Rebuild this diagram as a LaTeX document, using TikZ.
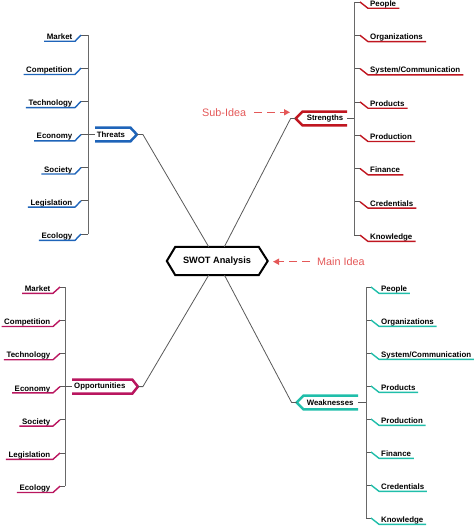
\documentclass[tikz,border=0pt]{standalone}
\usepackage{fontspec}
\setmainfont{Liberation Sans}
\usetikzlibrary{calc,arrows.meta}
\definecolor{thr}{RGB}{30,100,185}
\definecolor{str}{RGB}{192,22,32}
\definecolor{opp}{RGB}{185,22,95}
\definecolor{wea}{RGB}{32,190,170}
\definecolor{lblc}{RGB}{228,88,88}
\definecolor{gry}{RGB}{105,105,105}
\begin{document}
\begin{tikzpicture}[x=1pt,y=-1pt,
  leaf/.style={font=\bfseries\fontsize{7.9}{9}\selectfont, inner sep=0pt, text=black},
  branch/.style={font=\bfseries\fontsize{7.8}{9}\selectfont, minimum height=13.4pt, inner ysep=0pt, align=left},
  spineline/.style={draw=gry, line width=0.9pt},
  conn/.style={draw=gry!85!black, line width=0.8pt},
  leafline/.style={draw=#1, line width=1.4pt, line join=round},
  boxline/.style={draw=#1, line width=2.5pt, line join=miter},
  lbl/.style={font=\fontsize{10.8}{12}\selectfont, text=lblc, inner sep=0pt},
  dasharr/.style={draw=lblc, line width=1.4pt, dash pattern=on 8pt off 5pt, -{Triangle[length=6pt,width=6pt]}}
]
\useasboundingbox (0,0) rectangle (474,527);

% main idea
\node[font=\bfseries\fontsize{9.2}{11}\selectfont, minimum width=83pt, minimum height=28pt, inner sep=0pt] (M) at (217,261) {SWOT Analysis};
\draw[line width=2pt, line join=miter] ($(M.west)+(-8.5,0)$) -- (M.north west) -- (M.north east) -- ($(M.east)+(9,0)$) -- (M.south east) -- (M.south west) -- cycle;

% ---------- Threats ----------
\foreach \t [count=\i from 0] in {Market,Competition,Technology,Economy,Society,Legislation,Ecology}{
  \pgfmathsetmacro\yy{35+33.17*\i}
  \coordinate (Tj\i) at (88,\yy);
  \node[leaf, anchor=base east] (Tl\i) at (72.5,\yy+4.4) {\t};
  \draw[conn] (Tj\i) -- ++(-7,0) coordinate (Tk\i);
  \draw[leafline=thr] (Tk\i) -- ++(-6,6.3) -- ($(Tl\i.base west)+(-2.5,1.9)$);
}
\draw[spineline] (Tj0) -- (Tj6);
\node[branch, text width=31.6pt, inner xsep=1.7pt, anchor=west] (T) at ($(Tj3)+(7,0)$) {Threats};
\draw[conn] (Tj3) -- (T.west);
\draw[boxline=thr] (T.north west) -- (T.north east) -- ($(T.east)+(6.5,0)$) coordinate (Ttip) -- (T.south east) -- (T.south west);
\draw[conn] (Ttip) -- ++(6,0) coordinate (Tb) -- (M);

% ---------- Opportunities ----------
\foreach \t [count=\i from 0] in {Market,Competition,Technology,Economy,Society,Legislation,Ecology}{
  \pgfmathsetmacro\yy{287+33.2*\i}
  \coordinate (Oj\i) at (65,\yy);
  \node[leaf, anchor=base east] (Ol\i) at (50.5,\yy+4.4) {\t};
  \draw[conn] (Oj\i) -- ++(-5,0) coordinate (Ok\i);
  \draw[leafline=opp] (Ok\i) -- ++(-7,6.3) -- ($(Ol\i.base west)+(-2.5,1.9)$);
}
\draw[spineline] (Oj0) -- (Oj6);
\node[branch, text width=56pt, inner xsep=2pt, anchor=west] (O) at ($(Oj3)+(7,0)$) {Opportunities};
\draw[conn] (Oj3) -- (O.west);
\draw[boxline=opp] (O.north west) -- (O.north east) -- ($(O.east)+(5.5,0)$) coordinate (Otip) -- (O.south east) -- (O.south west);
\draw[conn] (Otip) -- ++(5,0) coordinate (Ob) -- (M);

% ---------- Strengths ----------
\foreach \t [count=\i from 0] in {People,Organizations,System/Communication,Products,Production,Finance,Credentials,Knowledge}{
  \pgfmathsetmacro\yy{2+33.3*\i}
  \coordinate (Sj\i) at (354,\yy);
  \node[leaf, anchor=base west] (Sl\i) at (370,\yy+4.4) {\t};
  \draw[conn] (Sj\i) -- ++(6,0) coordinate (Sk\i);
  \draw[leafline=str] (Sk\i) -- ++(8,6.3) -- ($(Sl\i.base east)+(3,1.9)$);
}
\draw[spineline] (Sj0) -- (Sj7);
\node[branch, text width=36pt, inner xsep=4pt, anchor=east] (S) at (347,118.5) {Strengths};
\draw[conn] (S.east) -- (S.east -| Sj0);
\draw[boxline=str] (S.north east) -- (S.north west) -- ($(S.west)+(-7,0)$) coordinate (Stip) -- (S.south west) -- (S.south east);
\draw[conn] (Stip) -- ++(-5,0) coordinate (Sb) -- (M);

% ---------- Weaknesses ----------
\foreach \t [count=\i from 0] in {People,Organizations,System/Communication,Products,Production,Finance,Credentials,Knowledge}{
  \pgfmathsetmacro\yy{287+33*\i}
  \coordinate (Wj\i) at (366,\yy);
  \node[leaf, anchor=base west] (Wl\i) at (381,\yy+4.4) {\t};
  \draw[conn] (Wj\i) -- ++(5,0) coordinate (Wk\i);
  \draw[leafline=wea] (Wk\i) -- ++(8,6.3) -- ($(Wl\i.base east)+(2.5,1.9)$);
}
\draw[spineline] (Wj0) -- (Wj7);
\node[branch, text width=48pt, inner xsep=3pt, anchor=east] (W) at (358,402.5) {Weaknesses};
\draw[conn] (W.east) -- (W.east -| Wj0);
\draw[boxline=wea] (W.north east) -- (W.north west) -- ($(W.west)+(-7,0)$) coordinate (Wtip) -- (W.south west) -- (W.south east);
\draw[conn] (Wtip) -- ++(-5,0) coordinate (Wb) -- (M);

% ---------- annotations ----------
\node[lbl, anchor=west] (sub) at (202,112.3) {Sub-Idea};
\coordinate (subend) at (290,112.3);
\draw[dasharr] ($(sub.east)+(8,0)$) -- (subend);
\node[lbl, anchor=west] (mi) at (317,261.7) {Main Idea};
\coordinate (miend) at (273,261.7);
\draw[dasharr] ($(mi.west)+(-7,0)$) -- (miend);
\end{tikzpicture}
\end{document}
